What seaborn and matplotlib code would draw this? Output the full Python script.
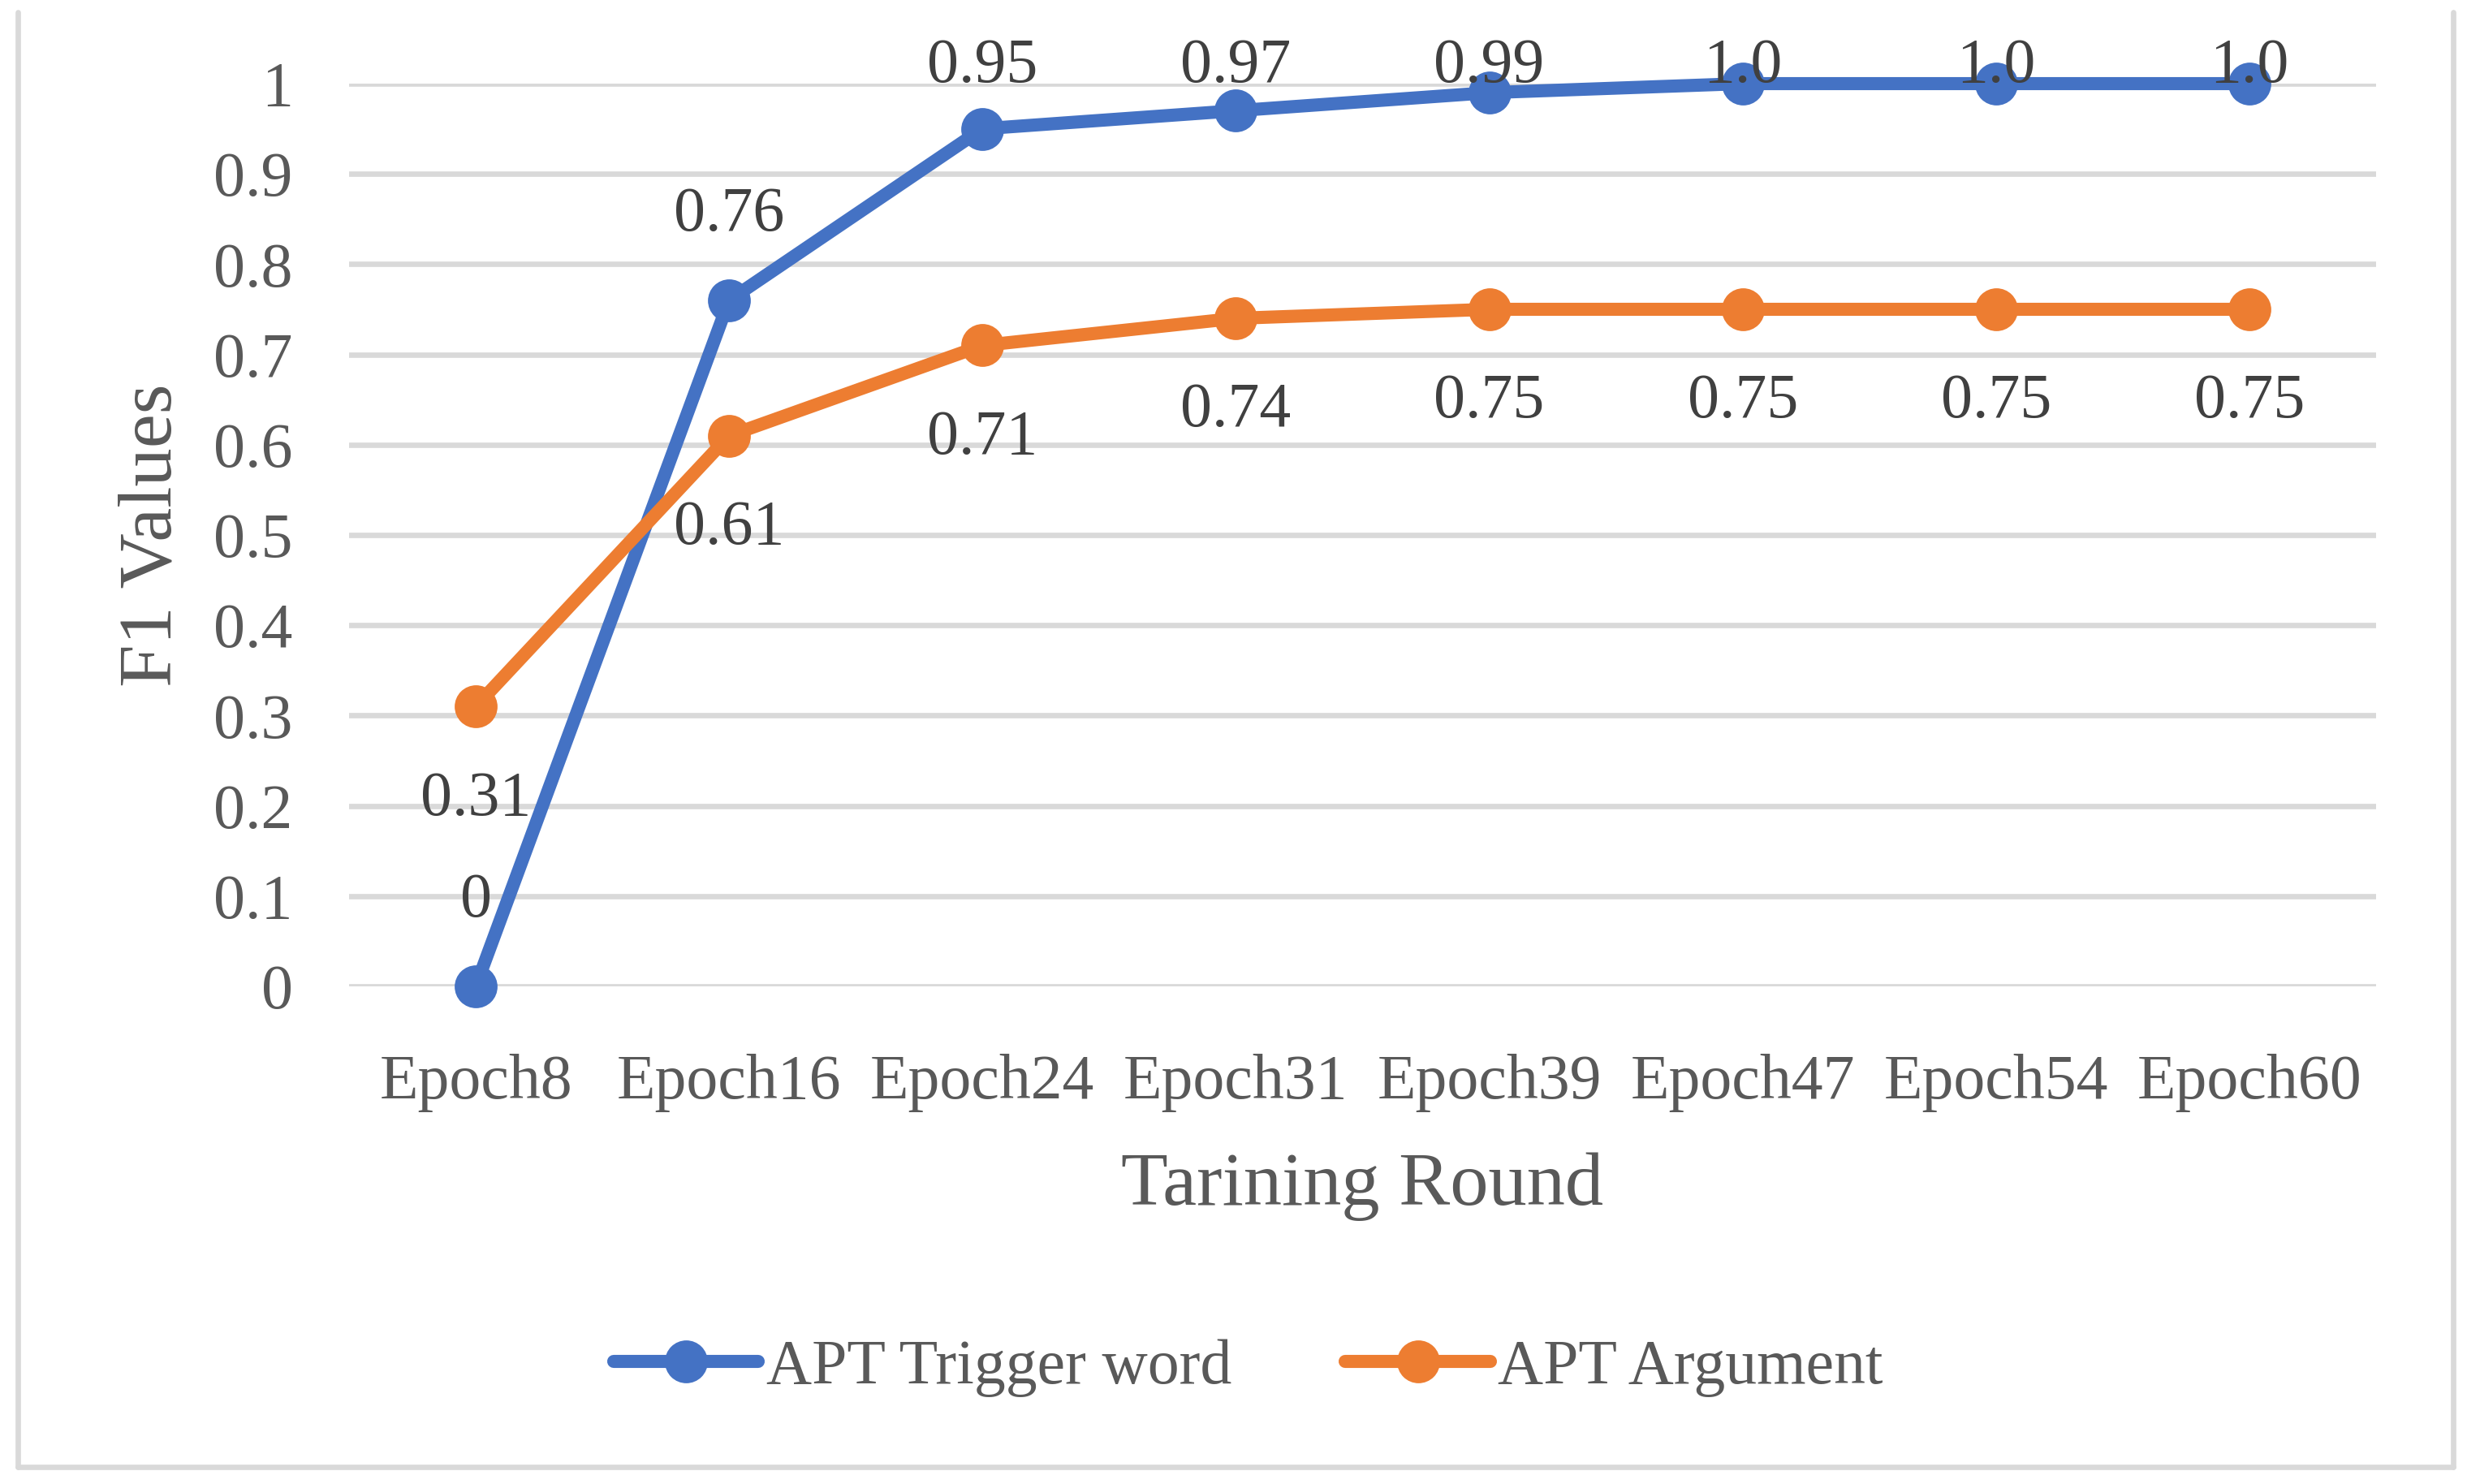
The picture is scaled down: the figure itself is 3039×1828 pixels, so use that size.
import matplotlib
matplotlib.use("Agg")
import matplotlib.pyplot as plt
import seaborn as sns
import pandas as pd
from matplotlib.lines import Line2D

categories = ["Epoch8", "Epoch16", "Epoch24", "Epoch31", "Epoch39", "Epoch47", "Epoch54", "Epoch60"]
trigger_values = [0.0, 0.76, 0.95, 0.97, 0.99, 1.0, 1.0, 1.0]
trigger_labels = ["0", "0.76", "0.95", "0.97", "0.99", "1.0", "1.0", "1.0"]
argument_values = [0.31, 0.61, 0.71, 0.74, 0.75, 0.75, 0.75, 0.75]
argument_labels = ["0.31", "0.61", "0.71", "0.74", "0.75", "0.75", "0.75", "0.75"]
series_names = ["APT Trigger word", "APT Argument"]
y_ticks = [0, 0.1, 0.2, 0.3, 0.4, 0.5, 0.6, 0.7, 0.8, 0.9, 1.0]
y_tick_labels = ["0", "0.1", "0.2", "0.3", "0.4", "0.5", "0.6", "0.7", "0.8", "0.9", "1"]

sns.set_theme(style="white")
plt.rcParams["font.family"] = ["Liberation Serif", "DejaVu Serif"]

BLUE = "#4472C4"
ORANGE = "#ED7D31"
TXT = "#595959"
LBL = "#404040"
GRID = "#D9D9D9"
FS = 28
LW = 5.8
MS = 19

df = pd.DataFrame({
    "Round": categories * 2,
    "F1": trigger_values + argument_values,
    "Series": [series_names[0]] * len(categories) + [series_names[1]] * len(categories),
})

fig = plt.figure(figsize=(15.195, 9.14), dpi=200)
W, H = 3039, 1828
ax = fig.add_axes([430 / W, 1 - 1215 / H, (2927 - 430) / W, (1215 - 103) / H])

sns.lineplot(data=df, x="Round", y="F1", hue="Series", palette=[BLUE, ORANGE],
             marker="o", markersize=MS, markeredgewidth=0, linewidth=LW,
             sort=False, ax=ax, legend=False, zorder=3)
for ln in ax.lines:
    ln.set_clip_on(False)
    ln.set_solid_capstyle("round")

ax.set_xlim(-0.5, len(categories) - 0.5)
ax.set_ylim(0, 1)
ax.set_yticks(y_ticks)
ax.set_yticklabels(y_tick_labels)
ax.yaxis.grid(True, color=GRID, linewidth=2.4, zorder=0)
ax.set_axisbelow(True)
for s in ax.spines.values():
    s.set_visible(False)
ax.tick_params(axis="both", length=0, labelsize=FS, colors=TXT)
ax.tick_params(axis="y", pad=25)
ax.tick_params(axis="x", pad=30)
ax.set_xlabel("")
ax.set_ylabel("")

# data labels
for i, (v, t) in enumerate(zip(trigger_values, trigger_labels)):
    y = min(v + 0.094, 1.019)
    ax.text(i, y, t, ha="center", va="center", fontsize=FS, color=LBL, zorder=5, clip_on=False)
for i, (v, t) in enumerate(zip(argument_values, argument_labels)):
    ax.text(i, v - 0.103, t, ha="center", va="center", fontsize=FS, color=LBL, zorder=5, clip_on=False)

# axis titles
fig.text(188 / W, 1 - 659 / H, "F1 Values", rotation=90, ha="center", va="center",
         fontsize=34, color=TXT)
fig.text(1678 / W, 1 - 1462 / H, "Tarining Round", ha="center", va="center",
         fontsize=34, color=TXT)

# legend
handles = [Line2D([0], [0], color=c, lw=LW, marker="o", markersize=MS, markeredgewidth=0)
           for c in (BLUE, ORANGE)]
fig.legend(handles, series_names, loc="center", bbox_to_anchor=(0.506, 0.078),
           ncol=2, frameon=False, fontsize=FS, labelcolor=TXT,
           handlelength=2.3, handletextpad=0.12, columnspacing=1.8)

# chart-area border (left, right, bottom)
for xs, ys in [((22, 22), (15, 1807)), ((3022, 3022), (15, 1807)), ((22, 3022), (1807, 1807))]:
    fig.add_artist(Line2D([x / W for x in xs], [1 - y / H for y in ys],
                          color=GRID, linewidth=2.4, transform=fig.transFigure))

fig.savefig("out.png", dpi=200)
